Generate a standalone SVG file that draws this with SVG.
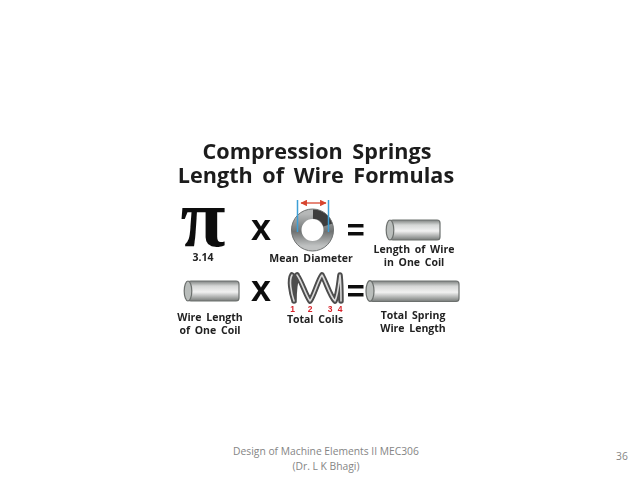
<svg xmlns="http://www.w3.org/2000/svg" width="638" height="478" viewBox="0 0 638 478">
<style>
.t{font-family:"Open Sans","Liberation Sans",sans-serif;font-weight:700;fill:#1c1c1c;text-anchor:middle}
.title{font-size:21.6px;word-spacing:4px}
.lab{font-size:10.5px;word-spacing:2px;fill:#222}
.x{font-family:"Liberation Sans",sans-serif;font-weight:700;font-size:36px;fill:#111;text-anchor:middle}
.num{font-family:"Liberation Sans",sans-serif;font-weight:700;font-size:8.5px;fill:#d8242a;text-anchor:middle}
.foot{font-family:"Open Sans","Liberation Sans",sans-serif;font-size:10.3px;fill:#858585;text-anchor:middle}
.cap{fill:#b9bdbb;stroke:#6c706e;stroke-width:1.2}
.body{stroke:#6c706e;stroke-width:1.2;fill:url(#cyl)}
.bar{fill:#111}
.coil{fill:none;stroke-linecap:round;stroke-linejoin:round}
</style>
<defs>
<linearGradient id="cyl" x1="0" y1="0" x2="0" y2="1"><stop offset="0" stop-color="#7e8280"/><stop offset=".25" stop-color="#d5d7d6"/><stop offset=".55" stop-color="#f1f1f1"/><stop offset="1" stop-color="#777b79"/></linearGradient>
<linearGradient id="ring" x1="0" y1="0" x2="0" y2="1"><stop offset="0" stop-color="#b6b8b8"/><stop offset=".55" stop-color="#6f7272"/><stop offset="1" stop-color="#c0c2c2"/></linearGradient>
<filter id="soft" x="-5%" y="-5%" width="110%" height="110%"><feGaussianBlur stdDeviation="0.45"/></filter>
<marker id="ah" viewBox="0 0 6 6" refX="5.5" refY="3" markerWidth="5" markerHeight="5" orient="auto-start-reverse"><path d="M0 0L6 3L0 6Z" fill="#d8452f"/></marker>
</defs>
<rect width="638" height="478" fill="#fff"/>
<g filter="url(#soft)">
<g id="title">
<text class="t title" x="317" y="159">Compression Springs</text>
<text class="t title" x="316" y="183">Length of Wire Formulas</text>
</g>
<g id="pi">
<text x="203" y="246" font-family="'Liberation Serif',serif" font-weight="700" font-size="82" fill="#0c0c0c" text-anchor="middle">π</text>
<text class="t lab" x="203" y="261" style="word-spacing:0;font-size:10.500px">3.14</text>
</g>
<text class="x" x="261" y="240">x</text>
<g id="mean-diameter">
<circle cx="312.500" cy="230" r="16" fill="none" stroke="url(#ring)" stroke-width="10"/>
<path d="M313 214A16 16 0 0 1 328 225" fill="none" stroke="#3c3c3c" stroke-width="9.500"/>
<circle cx="312.500" cy="230" r="21" fill="none" stroke="#6e7171" stroke-width="1"/>
<path d="M297.500 200V232M328.500 200V232" stroke="#3d9fd6" stroke-width="1.500" fill="none"/>
<path d="M301 203H326" stroke="#d8452f" stroke-width="1.300" fill="none" marker-start="url(#ah)" marker-end="url(#ah)"/>
<text class="t lab" x="311" y="262">Mean Diameter</text>
</g>
<g id="equals-1" class="bar"><rect x="348" y="224" width="15.500" height="3.500"/><rect x="348" y="232" width="15.500" height="3.500"/></g>
<g id="coil-wire">
<rect class="body" x="390" y="220" width="50" height="20" rx="3"/>
<ellipse class="cap" cx="390" cy="230" rx="3.800" ry="10"/>
<text class="t lab" x="414" y="253">Length of Wire</text>
<text class="t lab" x="414" y="266">in One Coil</text>
</g>
<g id="wire-one-coil">
<rect class="body" x="188" y="281" width="51" height="20" rx="3"/>
<ellipse class="cap" cx="188" cy="291" rx="3.800" ry="10"/>
<text class="t lab" x="210" y="321">Wire Length</text>
<text class="t lab" x="210" y="334">of One Coil</text>
</g>
<text class="x" x="261" y="301">x</text>
<g id="total-coils">
<path class="coil" stroke="#4d4d4d" stroke-width="5.500" d="M292 275C289 280 291 292 294 301M297 275C295 282 294 290 294 301M297 275C302 282 306 296 310 301C314 296 318 280 322 275C326 282 330 296 335 301C338 294 339 282 340 275C341 284 341 294 341 301"/>
<path class="coil" stroke="#d8d8d8" stroke-width="1.600" d="M292 275C289 280 291 292 294 301M297 275C302 282 306 296 310 301C314 296 318 280 322 275C326 282 330 296 335 301C338 294 339 282 340 275C341 284 341 294 341 301"/>
<text class="num" x="292.500" y="312">1</text><text class="num" x="310" y="312">2</text><text class="num" x="330" y="312">3</text><text class="num" x="340" y="312">4</text>
<text class="t lab" x="315" y="323">Total Coils</text>
</g>
<g id="equals-2" class="bar"><rect x="348" y="285" width="15.500" height="3.500"/><rect x="348" y="293" width="15.500" height="3.500"/></g>
<g id="total-wire">
<rect class="body" x="370" y="281" width="89" height="20.500" rx="3"/>
<ellipse class="cap" cx="370" cy="291" rx="4" ry="10.300"/>
<text class="t lab" x="413" y="319">Total Spring</text>
<text class="t lab" x="413" y="332">Wire Length</text>
</g>
</g>
<g id="footer">
<text class="foot" x="326" y="455">Design of Machine Elements II MEC306</text>
<text class="foot" x="326" y="470">(Dr. L K Bhagi)</text>
<text class="foot" x="622" y="460">36</text>
</g>
</svg>
